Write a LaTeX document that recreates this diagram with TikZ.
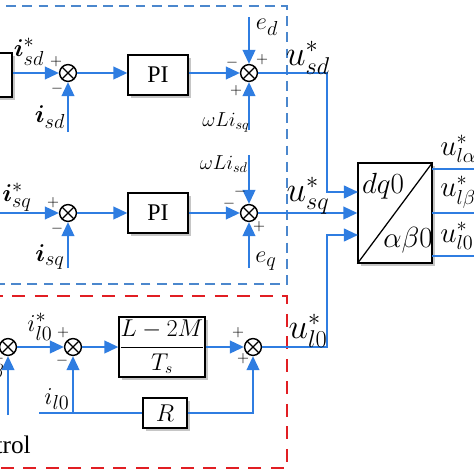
\documentclass[tikz,border=0pt]{standalone}
\usepackage{fontspec}
\setmainfont{Liberation Serif}
\usepackage{amsmath}
\usepackage{amssymb}
\usepackage{bm}
\usetikzlibrary{arrows.meta, positioning, shadows, calc}

\definecolor{lineblue}{RGB}{47,125,225}
\definecolor{dashblue}{RGB}{75,135,205}
\definecolor{dashred}{RGB}{225,30,35}

\tikzset{
	flow/.style={draw=lineblue, line width=1.5pt, -{Triangle[length=10pt,width=9pt]}},
	wire/.style={draw=lineblue, line width=1.5pt},
	sumj/.style={circle, draw, line width=1pt, fill=white, minimum size=0.42cm, inner sep=0pt,
		path picture={\draw[line width=0.9pt] (path picture bounding box.north west) -- (path picture bounding box.south east)
			(path picture bounding box.north east) -- (path picture bounding box.south west);}},
	blk/.style={draw, line width=0.9pt, fill=white, inner sep=0pt,
		drop shadow={shadow xshift=2pt, shadow yshift=-2pt, opacity=0.45}},
	lbl/.style={font=\fontsize{19}{21}\selectfont, inner sep=0pt},
	sml/.style={font=\fontsize{14}{16}\selectfont, inner sep=0pt},
	big/.style={font=\fontsize{23}{25}\selectfont, inner sep=0pt},
	mid/.style={font=\fontsize{20}{22}\selectfont, inner sep=0pt},
	sgn/.style={font=\fontsize{11}{12}\selectfont, inner sep=0pt}
}

\begin{document}
\begin{tikzpicture}[x=0.025cm, y=-0.025cm]
	\useasboundingbox (0,0) rectangle (474,474);
	% dashed frames
	\draw[dashblue, line width=1.1pt, dash pattern=on 7pt off 4.5pt] (-10,6) -- (287,6) -- (287,284) -- (-10,284);
	\draw[dashred, line width=2pt, dash pattern=on 9pt off 7pt] (-10,296) -- (287,296) -- (287,468) -- (-10,468);

	% d axis
	\node[blk, minimum width=1.3cm, minimum height=1.1cm] (CTRL) at (-14,75) {};
	\node[sumj] (S1) at (68,73) {};
	\node[blk, minimum width=1.5cm, minimum height=1cm, font=\fontsize{17}{18}\selectfont] (PI1) at (158,75) {PI};
	\node[sumj] (S2) at (249,73) {};
	\coordinate (ISD) at (68,132);
	\coordinate (ED) at (249,17);
	\coordinate (WLQ) at (249,130);
	\coordinate (C1) at (327,73);
	\coordinate (IN1) at (358,192);

	% q axis
	\coordinate (ISQS) at (0,213);
	\node[sumj] (S3) at (68,213) {};
	\node[blk, minimum width=1.5cm, minimum height=1cm, font=\fontsize{17}{18}\selectfont] (PI2) at (158,213) {PI};
	\node[sumj] (S4) at (249,213) {};
	\coordinate (ISQ) at (68,268);
	\coordinate (WLD) at (249,155);
	\coordinate (EQ) at (249,268);

	% transform
	\node[blk, minimum width=1.85cm, minimum height=2.5cm] (DQ) at (395,213) {};
	\draw[line width=0.9pt] (DQ.south west) -- (DQ.north east);
	\node[mid] (DQT) at (383,186) {$dq0$};
	\node[mid] (ABT) at (408,240) {$\alpha\beta0$};
	\coordinate (O1) at (432,169);
	\coordinate (O2) at (432,213);
	\coordinate (O3) at (432,256);
	\coordinate (E1) at (480,169);
	\coordinate (E2) at (480,213);
	\coordinate (E3) at (480,256);

	% zero sequence
	\node[sumj] (S5) at (8,347) {};
	\node[sumj] (S6) at (73,347) {};
	\node[blk, minimum width=1.78cm, minimum height=1.5cm] (FB) at (162,347) {\fontsize{16}{18}\selectfont$\displaystyle\frac{L-2M}{T_s}$};
	\node[sumj] (S7) at (253,347) {};
	\node[blk, minimum width=1.1cm, minimum height=0.75cm, font=\fontsize{17}{18}\selectfont] (R) at (165,413) {$R$};
	\coordinate (FB0) at (39,413);
	\coordinate (J) at (73,413);
	\coordinate (ILB) at (8,415);
	\coordinate (C3) at (327,347);
	\coordinate (IN3) at (358,235);

	% connectors
	\draw[flow] (CTRL.east |- S1) -- (S1);
	\draw[flow] (ISD) -- (S1);
	\draw[flow] (S1) -- (PI1.west |- S1);
	\draw[flow] (PI1.east |- S2) -- (S2);
	\draw[flow] (ED) -- (S2);
	\draw[flow] (WLQ) -- (S2);
	\draw[flow] (S2) -- (C1) |- (IN1);
	\draw[flow] (ISQS) -- (S3);
	\draw[flow] (ISQ) -- (S3);
	\draw[flow] (S3) -- (PI2);
	\draw[flow] (PI2) -- (S4);
	\draw[flow] (WLD) -- (S4);
	\draw[flow] (EQ) -- (S4);
	\draw[flow] (S4) -- (DQ);
	\draw[wire] (O1) -- (E1);
	\draw[wire] (O2) -- (E2);
	\draw[wire] (O3) -- (E3);
	\draw[flow] (ILB) -- (S5);
	\draw[flow] (S5) -- (S6);
	\draw[flow] (S6) -- (FB);
	\draw[flow] (FB) -- (S7);
	\draw[flow] (J) -- (S6);
	\draw[wire] (FB0) -- (R);
	\draw[flow] (R) -| (S7);
	\draw[flow] (S7) -- (C3) |- (IN3);

	% labels
	\node[lbl] (LISDR) at (29,52) {$\bm{i}^{*}_{sd}$};
	\node[lbl] (LISD) at (50,117) {$\bm{i}_{sd}$};
	\node[sgn] (P1) at (56,62) {$+$};
	\node[sgn] (M1) at (57,89) {$-$};
	\node[sgn] (M2) at (232,63) {$-$};
	\node[sgn] (P2) at (262,60) {$+$};
	\node[sgn] (P3) at (236,91) {$+$};
	\node[lbl] (LED) at (267,27) {$e_d$};
	\node[sml, anchor=east] (LWLQ) at (250,122) {$\omega L i_{sq}$};
	\node[big] (LUSD) at (308,58) {$u^{*}_{sd}$};

	\node[lbl] (LISQR) at (17,197) {$\bm{i}^{*}_{sq}$};
	\node[lbl] (LISQ) at (50,257) {$\bm{i}_{sq}$};
	\node[sgn] (P4) at (53,203) {$+$};
	\node[sgn] (M4) at (57,229) {$-$};
	\node[sml, anchor=east] (LWLD) at (248,164) {$\omega L i_{sd}$};
	\node[sgn] (M5) at (240,192) {$-$};
	\node[sgn] (M6) at (229,204) {$-$};
	\node[sgn] (P5) at (259,227) {$+$};
	\node[lbl] (LEQ) at (266,261) {$e_q$};
	\node[big] (LUSQ) at (308,196) {$u^{*}_{sq}$};

	\node[mid, anchor=west] (LUA) at (440,149) {$u^{*}_{l\alpha}$};
	\node[mid, anchor=west] (LUB) at (440,192) {$u^{*}_{l\beta}$};
	\node[mid, anchor=west] (LUZ) at (440,236) {$u^{*}_{l0}$};

	\node[lbl] (LILR) at (40,327) {$i^{*}_{l0}$};
	\node[sgn] (P6) at (63,333) {$+$};
	\node[sgn] (M7) at (62,361) {$-$};
	\node[sgn] (M8) at (-2,359) {$-$};
	\node[lbl, anchor=east] (LILB) at (5,370) {$i_{l\beta}$};
	\node[lbl] (LIL) at (57,399) {$i_{l0}$};
	\node[sgn] (P7) at (238,333) {$+$};
	\node[sgn] (P8) at (243,359) {$+$};
	\node[big] (LUL) at (308,331) {$u^{*}_{l0}$};
	\node[anchor=east, font=\fontsize{18}{20}\selectfont, inner sep=0pt] (CTXT) at (31,445) {Control};
\end{tikzpicture}
\end{document}
